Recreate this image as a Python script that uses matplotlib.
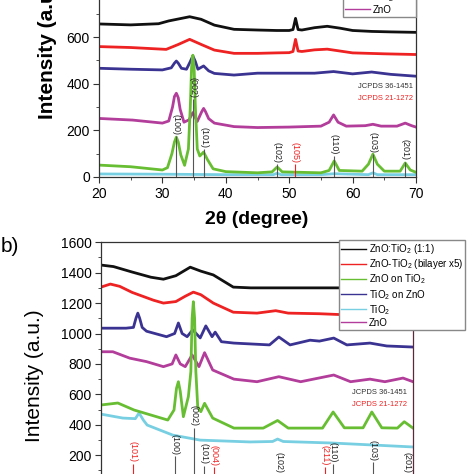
import matplotlib
matplotlib.use("Agg")
import matplotlib.pyplot as plt
from matplotlib.ticker import MultipleLocator
from matplotlib.lines import Line2D

plt.rcParams['font.family'] = ['Liberation Sans', 'DejaVu Sans']
plt.rcParams['mathtext.fontset'] = 'custom'
plt.rcParams['mathtext.rm'] = 'Liberation Sans'
plt.rcParams['mathtext.it'] = 'Liberation Sans:italic'
plt.rcParams['mathtext.bf'] = 'Liberation Sans:bold'

# ---------------- colours ----------------
C_BLACK = '#111111'
C_RED = '#ee2222'
C_BLUE = '#3b3392'
C_MAG = '#b23d9a'
C_GREEN = '#68be32'
C_CYAN = '#78cfe2'

# ---------------- panel (a) data ----------------
a_black_x = [20, 25, 29.4, 31, 34.3, 36.1, 38.2, 41.3, 45, 48, 50, 50.6, 51.0, 51.4, 52, 54, 56, 58, 60, 63, 66, 70]
a_black_y = [656, 652, 657, 669, 687, 676, 651, 633, 630, 628, 628, 632, 680, 632, 630, 640, 646, 638, 628, 624, 622, 620]

a_red_x = [20, 25, 30.6, 32.5, 34.3, 36.3, 38.2, 41.3, 45, 48, 50, 50.6, 51.0, 51.4, 52, 54, 56, 58, 60, 65, 70]
a_red_y = [559, 555, 547, 568, 590, 566, 544, 530, 530, 532, 533, 538, 590, 540, 538, 545, 548, 540, 532, 528, 525]

a_blue_x = [20, 25, 30, 31.4, 31.9, 32.2, 32.5, 33.0, 33.8, 34.4, 34.8, 35.2, 35.6, 36.5, 37.3, 38.2, 41.3, 45, 50, 54, 57, 60, 63, 66, 70]
a_blue_y = [466, 462, 459, 468, 488, 497, 488, 466, 462, 495, 519, 495, 462, 476, 455, 444, 437, 445, 445, 445, 452, 442, 450, 440, 432]

a_mag_x = [20, 25.3, 30, 31.0, 31.6, 31.9, 32.2, 32.5, 32.8, 33.4, 34.2, 34.8, 35.5, 36.2, 36.5, 36.8, 37.3, 38.2, 41.3, 45, 50, 55, 56.3, 57.0, 57.7, 59, 62, 63.2, 64.5, 67, 68.3, 69.3, 70]
a_mag_y = [251, 244, 231, 240, 300, 345, 359, 340, 290, 235, 245, 276, 238, 280, 294, 280, 250, 231, 216, 212, 214, 218, 235, 266, 235, 218, 220, 226, 218, 218, 231, 220, 214]

a_green_x = [20, 25, 30, 30.8, 31.5, 31.9, 32.2, 32.5, 32.9, 33.5, 34.1, 34.4, 34.6, 34.8, 35.0, 35.2, 35.5, 35.9, 36.5, 37.1, 38, 40, 45, 47.3, 48.1, 48.9, 55, 56.3, 57.1, 57.9, 61.5, 62.5, 63.2, 63.9, 65, 67.5, 68.3, 69.1, 70]
a_green_y = [51, 44, 30, 40, 100, 150, 171, 150, 95, 50, 120, 300, 470, 522, 470, 300, 120, 90, 107, 75, 35, 23, 18, 22, 43, 22, 18, 28, 69, 28, 25, 55, 98, 55, 25, 25, 60, 30, 20]

a_cyan_x = [20, 30, 40, 47.5, 48.1, 48.7, 55, 57.1, 62.5, 63.2, 63.9, 70]
a_cyan_y = [13, 12, 10, 10, 16, 10, 10, 14, 10, 18, 10, 10]

a_ref_x = [32.2, 34.8, 36.6, 48.1, 50.9, 57.1, 63.2, 68.3]
a_ref_y = [227, 385, 171, 107, 107, 141, 150, 116]
a_ref_lab = ['(100)', '(002)', '(101)', '(102)', '(105)', '(110)', '(103)', '(201)']
a_ref_red = [False, False, False, False, True, False, False, False]

# ---------------- panel (b) data ----------------
b_black_x = [20, 22, 25, 28, 30, 32, 34.3, 36, 38, 41.2, 44, 50, 55, 58, 62, 70]
b_black_y = [1450, 1440, 1404, 1370, 1357, 1380, 1436, 1410, 1385, 1305, 1300, 1300, 1300, 1300, 1295, 1290]

b_red_x = [20, 21.5, 23, 25, 28.4, 30, 32, 33.5, 34.8, 36, 38, 41.2, 45, 48, 50, 55, 58, 62, 70]
b_red_y = [1305, 1325, 1310, 1270, 1219, 1200, 1210, 1245, 1272, 1255, 1200, 1140, 1134, 1150, 1134, 1130, 1125, 1120, 1115]

b_blue_x = [20, 24, 25.2, 25.6, 25.9, 26.2, 26.6, 27.3, 30.5, 31.8, 32.4, 33.0, 33.8, 34.7, 35.9, 36.8, 37.8, 38.3, 39.3, 41.3, 47, 48.5, 50.3, 53.5, 55, 57.3, 59.4, 63.1, 65.8, 70]
b_blue_y = [1035, 1035, 1040, 1100, 1134, 1100, 1040, 1015, 979, 1000, 1069, 1000, 979, 1024, 971, 1050, 979, 1009, 946, 937, 925, 977, 925, 956, 950, 970, 925, 937, 918, 911]

b_mag_x = [20, 21.9, 24.6, 27.3, 30, 31.4, 32.0, 32.7, 33.5, 34.6, 35.7, 36.6, 37.9, 41.3, 45, 48.5, 52, 57.3, 60, 63.1, 65.5, 68.4, 70]
b_mag_y = [880, 880, 838, 815, 782, 800, 859, 800, 782, 859, 782, 874, 760, 700, 683, 716, 683, 727, 683, 700, 683, 707, 683]

b_green_x = [20, 22.7, 25.3, 28, 30.7, 31.7, 32.1, 32.4, 32.7, 33.2, 34.0, 34.4, 34.6, 34.8, 35.0, 35.2, 35.5, 36.0, 36.6, 37.9, 41.3, 46, 48.3, 50, 55.5, 57.2, 59, 62, 63.4, 65, 67.5, 68.6, 70]
b_green_y = [530, 543, 497, 464, 431, 497, 640, 683, 620, 453, 585, 750, 1100, 1209, 1100, 750, 519, 486, 541, 444, 378, 378, 428, 378, 378, 484, 380, 380, 484, 380, 378, 420, 378]

b_cyan_x = [20, 23.5, 25.5, 26.1, 26.8, 27.4, 31.5, 35.9, 43.9, 47.5, 48.3, 49.2, 57, 70]
b_cyan_y = [470, 444, 440, 477, 430, 398, 332, 299, 287, 290, 306, 290, 280, 254]

b_ref_x = [25.1, 31.9, 34.9, 36.5, 38.1, 48.5, 55.9, 57.2, 63.6, 69.0]
b_ref_y = [221, 273, 458, 208, 201, 155, 201, 220, 234, 155]
b_ref_lab = ['(101)', '(100)', '(002)', '(101)', '(004)', '(102)', '(211)', '(110)', '(103)', '(201)']
b_ref_red = [True, False, False, False, True, False, True, False, False, False]

legend_labels = ['ZnO:TiO$_2$ (1:1)', 'ZnO-TiO$_2$ (bilayer x5)', 'ZnO on TiO$_2$',
                 'TiO$_2$ on ZnO', 'TiO$_2$', 'ZnO']
legend_colors = [C_BLACK, C_RED, C_GREEN, C_BLUE, C_CYAN, C_MAG]

# ---------------- figure ----------------
W = H = 474.0
fig = plt.figure(figsize=(4.74, 4.74), dpi=100)


def rect(l, t, r, b):
    return [l / W, 1 - b / H, (r - l) / W, (b - t) / H]


A_PX = 0.2333   # px per unit, panel a
B_PX = 0.1521   # px per unit, panel b
ax1 = fig.add_axes(rect(99, 177 - 800 * A_PX, 416, 177))
ax2 = fig.add_axes(rect(101, 485.6 - 1600 * B_PX, 413, 485.6))

LW = 2.0
SPINE = '#333333'
for ax in (ax1, ax2):
    for s in ax.spines.values():
        s.set_color(SPINE)
        s.set_linewidth(0.9)
    ax.tick_params(which='major', direction='out', length=4, width=0.8, labelsize=10, pad=2.5, color=SPINE)
    ax.tick_params(which='minor', direction='out', length=2, width=0.6, color=SPINE)
    ax.set_xlim(20, 70)
    ax.xaxis.set_major_locator(MultipleLocator(10))
    ax.xaxis.set_minor_locator(MultipleLocator(5))
    ax.yaxis.set_major_locator(MultipleLocator(200))
    ax.yaxis.set_minor_locator(MultipleLocator(100))

# panel (a)
ax1.set_ylim(0, 800)
ax1.plot(a_cyan_x, a_cyan_y, color=C_CYAN, lw=LW)
ax1.plot(a_mag_x, a_mag_y, color=C_MAG, lw=LW)
ax1.plot(a_blue_x, a_blue_y, color=C_BLUE, lw=LW)
ax1.plot(a_red_x, a_red_y, color=C_RED, lw=LW)
ax1.plot(a_black_x, a_black_y, color=C_BLACK, lw=LW)
ax1.plot(a_green_x, a_green_y, color=C_GREEN, lw=LW)
for x, y, lab, red in zip(a_ref_x, a_ref_y, a_ref_lab, a_ref_red):
    col = C_RED if red else '#555555'
    ax1.vlines(x, 0, y - 50, color=col, lw=0.8, zorder=5)
    ax1.text(x, y, lab, rotation=270, ha='center', va='center', fontsize=6.5,
             color=(C_RED if red else '#222222'), zorder=6)
ax1.text(0.99, (177 - 87) / (800 * A_PX), 'JCPDS 36-1451', transform=ax1.transAxes,
         ha='right', va='center', fontsize=5.5, color='#333333')
ax1.text(0.99, (177 - 98) / (800 * A_PX), 'JCPDS 21-1272', transform=ax1.transAxes,
         ha='right', va='center', fontsize=5.5, color=C_RED)
ax1.set_xticks([20, 30, 40, 50, 60, 70])
ax1.tick_params(axis='x', pad=3)

fig.text(47.5 / W, 1 - 48 / H, 'Intensity (a.u.)', rotation=90, ha='center', va='center',
         fontsize=15, fontweight='bold')
fig.text(257 / W, 1 - 220 / H, '2\u03b8 (degree)', ha='center', va='center',
         fontsize=14, fontweight='bold')

LEG_KW = dict(borderaxespad=0, fontsize=7, handlelength=2.6, handletextpad=0.25,
              labelspacing=0.13, borderpad=0.22, fancybox=False, edgecolor='#888888',
              framealpha=1)

# panel (a) legend (only lower part visible)
h_top = [Line2D([], [], color=C_CYAN, lw=1), Line2D([], [], color=C_MAG, lw=1)]
fig.legend(h_top, ['TiO$_2$', 'ZnO'], loc='lower left',
           bbox_to_anchor=(343 / W, 1 - 17 / H, 73 / W, 0.05), mode='expand', **LEG_KW)

# panel (b)
ax2.set_ylim(0, 1600)
ax2.plot(b_cyan_x, b_cyan_y, color=C_CYAN, lw=LW)
ax2.plot(b_mag_x, b_mag_y, color=C_MAG, lw=LW)
ax2.plot(b_blue_x, b_blue_y, color=C_BLUE, lw=LW)
ax2.plot(b_red_x, b_red_y, color=C_RED, lw=LW)
ax2.plot(b_black_x, b_black_y, color=C_BLACK, lw=LW)
ax2.plot(b_green_x, b_green_y, color=C_GREEN, lw=LW)
for x, y, lab, red in zip(b_ref_x, b_ref_y, b_ref_lab, b_ref_red):
    col = C_RED if red else '#555555'
    ax2.vlines(x, 0, y - 78, color=col, lw=0.8, zorder=5)
    ax2.text(x, y, lab, rotation=270, ha='center', va='center', fontsize=6.5,
             color=(C_RED if red else '#222222'), zorder=6)
ax2.text(0.98, (485.6 - 393) / (1600 * B_PX), 'JCPDS 36-1451', transform=ax2.transAxes,
         ha='right', va='center', fontsize=5.5, color='#333333')
ax2.text(0.98, (485.6 - 404) / (1600 * B_PX), 'JCPDS 21-1272', transform=ax2.transAxes,
         ha='right', va='center', fontsize=5.5, color=C_RED)
ax2.set_yticks([0, 200, 400, 600, 800, 1000, 1200, 1400, 1600])
ax2.spines['right'].set_color('#5a2a3a')

fig.text(35 / W, 1 - 376 / H, 'Intensity (a.u.)', rotation=90, ha='center', va='center',
         fontsize=15)
fig.text(1 / W, 1 - 247 / H, 'b)', ha='left', va='center', fontsize=15)

h_bot = [Line2D([], [], color=c, lw=1) for c in legend_colors]
fig.legend(h_bot, legend_labels, loc='upper left',
           bbox_to_anchor=(339 / W, 1 - 325 / H, 126 / W, 85 / H), mode='expand', **LEG_KW)

fig.savefig('out.png', dpi=100)
